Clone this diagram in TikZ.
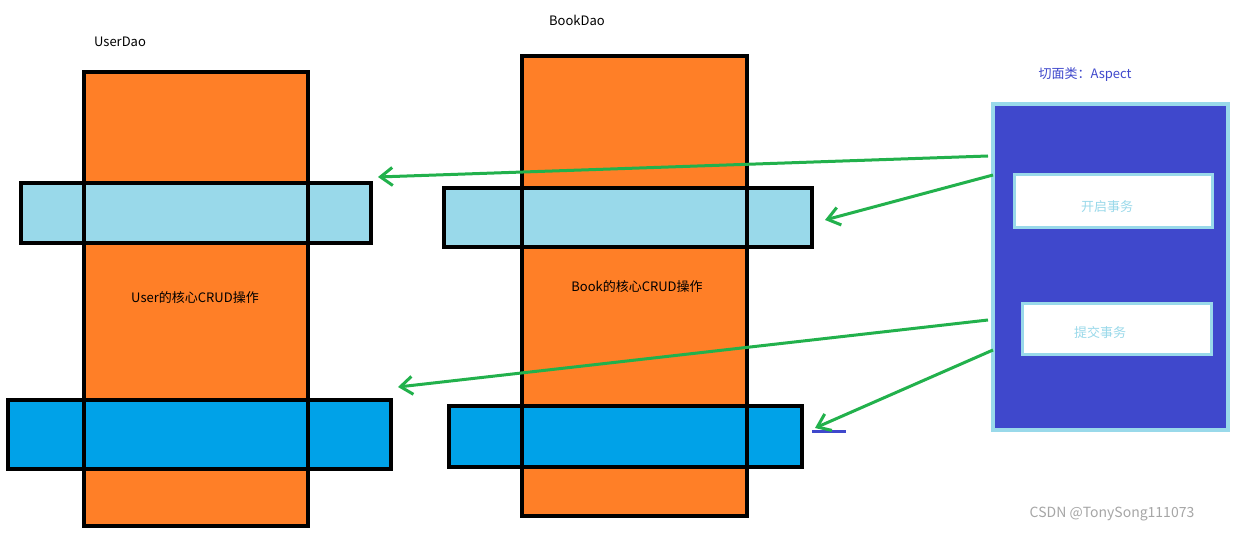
\documentclass[tikz,border=0pt]{standalone}
\usepackage{fontspec}
\setmainfont{Noto Sans CJK SC}
\usetikzlibrary{arrows.meta}
\definecolor{org}{HTML}{FF7F27}
\definecolor{lb}{HTML}{99D9EA}
\definecolor{bl}{HTML}{00A2E8}
\definecolor{ind}{HTML}{3F48CC}
\definecolor{grn}{HTML}{22B14C}
\begin{document}
\begin{tikzpicture}[x=1pt,y=-1pt,
  blk/.style={draw=black,line width=3.5pt},
  arr/.style={grn,line width=3pt,-{Straight Barb[length=12pt,width=18pt]}},
  lbl/.style={font=\fontsize{13}{15}\selectfont}]
\useasboundingbox (0,0) rectangle (1241,534);
\fill[white] (0,0) rectangle (1241,534);
% UserDao
\node[lbl] (ul) at (120,42) {UserDao};
\fill[org] (84,72) rectangle (308,526);
\draw[blk,fill=lb] (21,183) rectangle (371,243);
\draw[blk,fill=bl] (8,400) rectangle (391,469);
\draw[blk] (84,72) rectangle (308,526);
\node[lbl] (ut) at (195,298) {User的核心CRUD操作};
\coordinate (ua) at (378,177);
\coordinate (ub) at (398,387);
% BookDao
\node[lbl] (bk) at (577,20) {BookDao};
\fill[org] (522,56) rectangle (747,516);
\draw[blk,fill=lb] (444,188) rectangle (812,247);
\draw[blk,fill=bl] (449,406) rectangle (802,467);
\draw[blk] (522,56) rectangle (747,516);
\node[lbl] (bt) at (637,287) {Book的核心CRUD操作};
\coordinate (ba) at (825,220);
\coordinate (bb) at (815,428);
\draw[ind,line width=3pt] (812,431) -- (846,431);
% Aspect
\node[lbl,text=ind] (al) at (1085,75) {切面类：Aspect};
\draw[draw=lb,fill=ind,line width=4pt] (993,104) rectangle (1228,430);
\draw[draw=lb,fill=white,line width=3pt] (1014,175) rectangle (1212,228);
\node[lbl,text=lb] (k) at (1107,207) {开启事务};
\draw[draw=lb,fill=white,line width=3pt] (1022,304) rectangle (1211,354);
\node[lbl,text=lb] (t) at (1100,333) {提交事务};
\coordinate (a1) at (988,156);
\coordinate (a2) at (993,175);
\coordinate (a3) at (988,320);
\coordinate (a4) at (993,350);
\draw[arr] (a1) -- (ua);
\draw[arr] (a2) -- (ba);
\draw[arr] (a3) -- (ub);
\draw[arr] (a4) -- (bb);
\node[lbl,text=gray!70,font=\fontsize{14}{16}\selectfont] (wm) at (1112,514) {CSDN @TonySong111073};
\end{tikzpicture}
\end{document}
